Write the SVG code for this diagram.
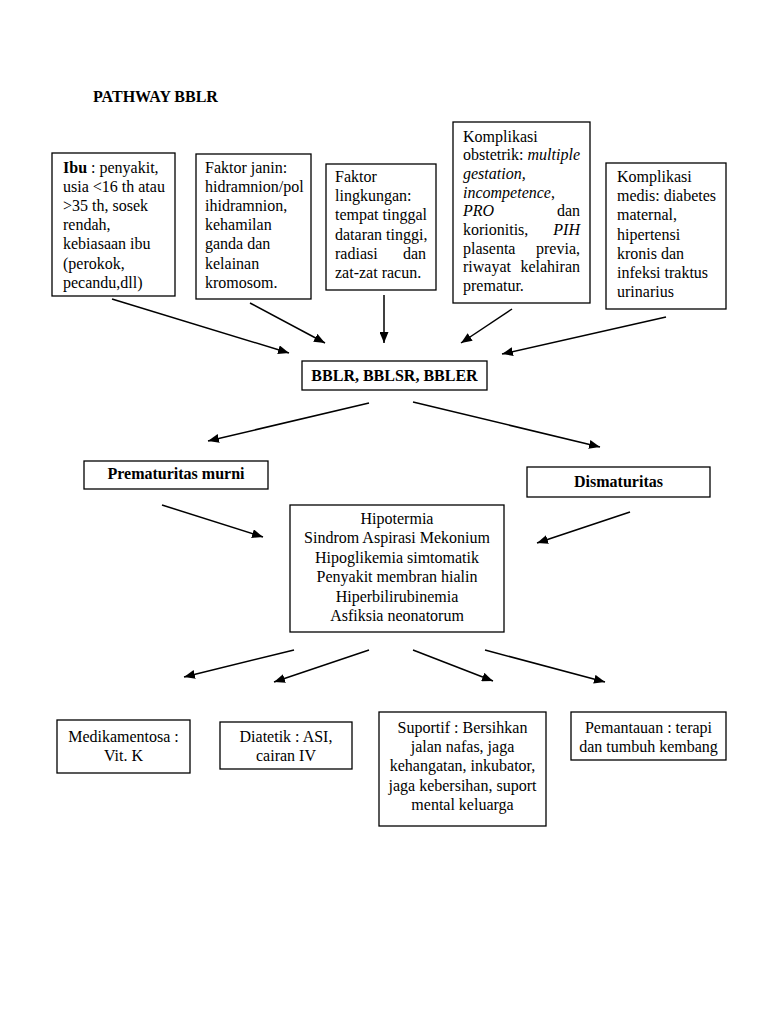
<svg xmlns="http://www.w3.org/2000/svg" width="768" height="1024" viewBox="0 0 768 1024">
<style>
text{font-family:"Liberation Serif","Times New Roman",serif;font-size:16px;fill:#000}
.b{font-weight:bold}
.i{font-style:italic}
.c{text-anchor:middle}
.e{text-anchor:end}
rect{fill:#fff;stroke:#000;stroke-width:1.3}
#connectors line{stroke:#000;stroke-width:1.5;marker-end:url(#ah)}
</style>
<defs>
<marker id="ah" markerUnits="userSpaceOnUse" markerWidth="11" markerHeight="9" refX="11" refY="4.5" orient="auto">
<path d="M0,0 L11,4.5 L0,9 z" fill="#000"/>
</marker>
</defs>
<rect x="0" y="0" width="768" height="1024" style="stroke:none"/>
<text class="b" x="93" y="101.5">PATHWAY BBLR</text>

<g id="ibu">
<rect x="52" y="153" width="123" height="143"/>
<text x="63" y="172.5"><tspan class="b">Ibu</tspan> : penyakit,</text>
<text x="63" y="191.7">usia &lt;16 th atau</text>
<text x="63" y="210.9">&gt;35 th, sosek</text>
<text x="63" y="230.1">rendah,</text>
<text x="63" y="249.3">kebiasaan ibu</text>
<text x="63" y="268.5">(perokok,</text>
<text x="63" y="287.7">pecandu,dll)</text>
</g>

<g id="janin">
<rect x="196" y="154" width="115" height="145"/>
<text x="205" y="172.5">Faktor janin:</text>
<text x="205" y="191.7">hidramnion/pol</text>
<text x="205" y="210.9">ihidramnion,</text>
<text x="205" y="230.1">kehamilan</text>
<text x="205" y="249.3">ganda dan</text>
<text x="205" y="268.5">kelainan</text>
<text x="205" y="287.7">kromosom.</text>
</g>

<g id="lingkungan">
<rect x="326" y="164" width="110" height="126"/>
<text x="335" y="182">Faktor</text>
<text x="335" y="201.2">lingkungan:</text>
<text x="335" y="220.4">tempat tinggal</text>
<text x="335" y="239.6">dataran tinggi,</text>
<text x="335" y="258.8">radiasi</text><text class="e" x="426" y="258.8">dan</text>
<text x="335" y="278">zat-zat racun.</text>
</g>

<g id="obstetrik">
<rect x="453" y="122" width="137" height="181"/>
<text x="463" y="141.5">Komplikasi</text>
<text x="463" y="160.2">obstetrik:</text><text class="e i" x="580" y="160.2">multiple</text>
<text x="463" y="178.9"><tspan class="i">gestation,</tspan></text>
<text x="463" y="197.6"><tspan class="i">incompetence</tspan>,</text>
<text class="i" x="463" y="216.3">PRO</text><text class="e" x="580" y="216.3">dan</text>
<text x="463" y="235">korionitis,</text><text class="e i" x="580" y="235">PIH</text>
<text x="463" y="253.7">plasenta</text><text class="e" x="580" y="253.7">previa,</text>
<text x="463" y="272.4">riwayat</text><text class="e" x="580" y="272.4">kelahiran</text>
<text x="463" y="291.1">prematur.</text>
</g>

<g id="medis">
<rect x="606" y="163" width="120" height="146"/>
<text x="617" y="182">Komplikasi</text>
<text x="617" y="201.2">medis: diabetes</text>
<text x="617" y="220.4">maternal,</text>
<text x="617" y="239.6">hipertensi</text>
<text x="617" y="258.8">kronis dan</text>
<text x="617" y="278">infeksi traktus</text>
<text x="617" y="297.2">urinarius</text>
</g>

<g id="bblr">
<rect x="302" y="361" width="185" height="29"/>
<text class="b c" x="394.5" y="380.5">BBLR, BBLSR, BBLER</text>
</g>

<g id="prematuritas">
<rect x="84" y="461" width="184" height="28"/>
<text class="b c" x="176" y="479">Prematuritas murni</text>
</g>

<g id="dismaturitas">
<rect x="527" y="467" width="183" height="30"/>
<text class="b c" x="618.5" y="487">Dismaturitas</text>
</g>

<g id="komplikasi">
<rect x="290" y="505" width="214" height="127"/>
<text class="c" x="397" y="523.5">Hipotermia</text>
<text class="c" x="397" y="543">Sindrom Aspirasi Mekonium</text>
<text class="c" x="397" y="562.5">Hipoglikemia simtomatik</text>
<text class="c" x="397" y="582">Penyakit membran hialin</text>
<text class="c" x="397" y="601.5">Hiperbilirubinemia</text>
<text class="c" x="397" y="621">Asfiksia neonatorum</text>
</g>

<g id="medikamentosa">
<rect x="57" y="720" width="133" height="53"/>
<text class="c" x="123.5" y="741.5">Medikamentosa :</text>
<text class="c" x="123.5" y="760.5">Vit. K</text>
</g>

<g id="diatetik">
<rect x="220" y="722" width="132" height="47"/>
<text class="c" x="286" y="741.5">Diatetik : ASI,</text>
<text class="c" x="286" y="760.5">cairan IV</text>
</g>

<g id="suportif">
<rect x="379" y="712" width="167" height="114"/>
<text class="c" x="462.5" y="733">Suportif : Bersihkan</text>
<text class="c" x="462.5" y="752.2">jalan nafas, jaga</text>
<text class="c" x="462.5" y="771.4">kehangatan, inkubator,</text>
<text class="c" x="462.5" y="790.6">jaga kebersihan, suport</text>
<text class="c" x="462.5" y="809.8">mental keluarga</text>
</g>

<g id="pemantauan">
<rect x="571" y="712" width="155" height="48"/>
<text class="c" x="648.5" y="733">Pemantauan : terapi</text>
<text class="c" x="648.5" y="752.2">dan tumbuh kembang</text>
</g>

<g id="connectors">
<line x1="112" y1="299" x2="289" y2="353"/>
<line x1="250" y1="303" x2="325" y2="343"/>
<line x1="384" y1="295" x2="384" y2="343"/>
<line x1="512" y1="309" x2="461" y2="343"/>
<line x1="666" y1="317" x2="502" y2="354"/>
<line x1="369" y1="403" x2="208" y2="441"/>
<line x1="413" y1="402" x2="600" y2="447"/>
<line x1="162" y1="505" x2="263" y2="537"/>
<line x1="630" y1="512" x2="537" y2="543"/>
<line x1="294" y1="650" x2="184" y2="677"/>
<line x1="369" y1="650" x2="274" y2="682"/>
<line x1="413" y1="650" x2="493" y2="681"/>
<line x1="485" y1="650" x2="605" y2="682"/>
</g>
</svg>
